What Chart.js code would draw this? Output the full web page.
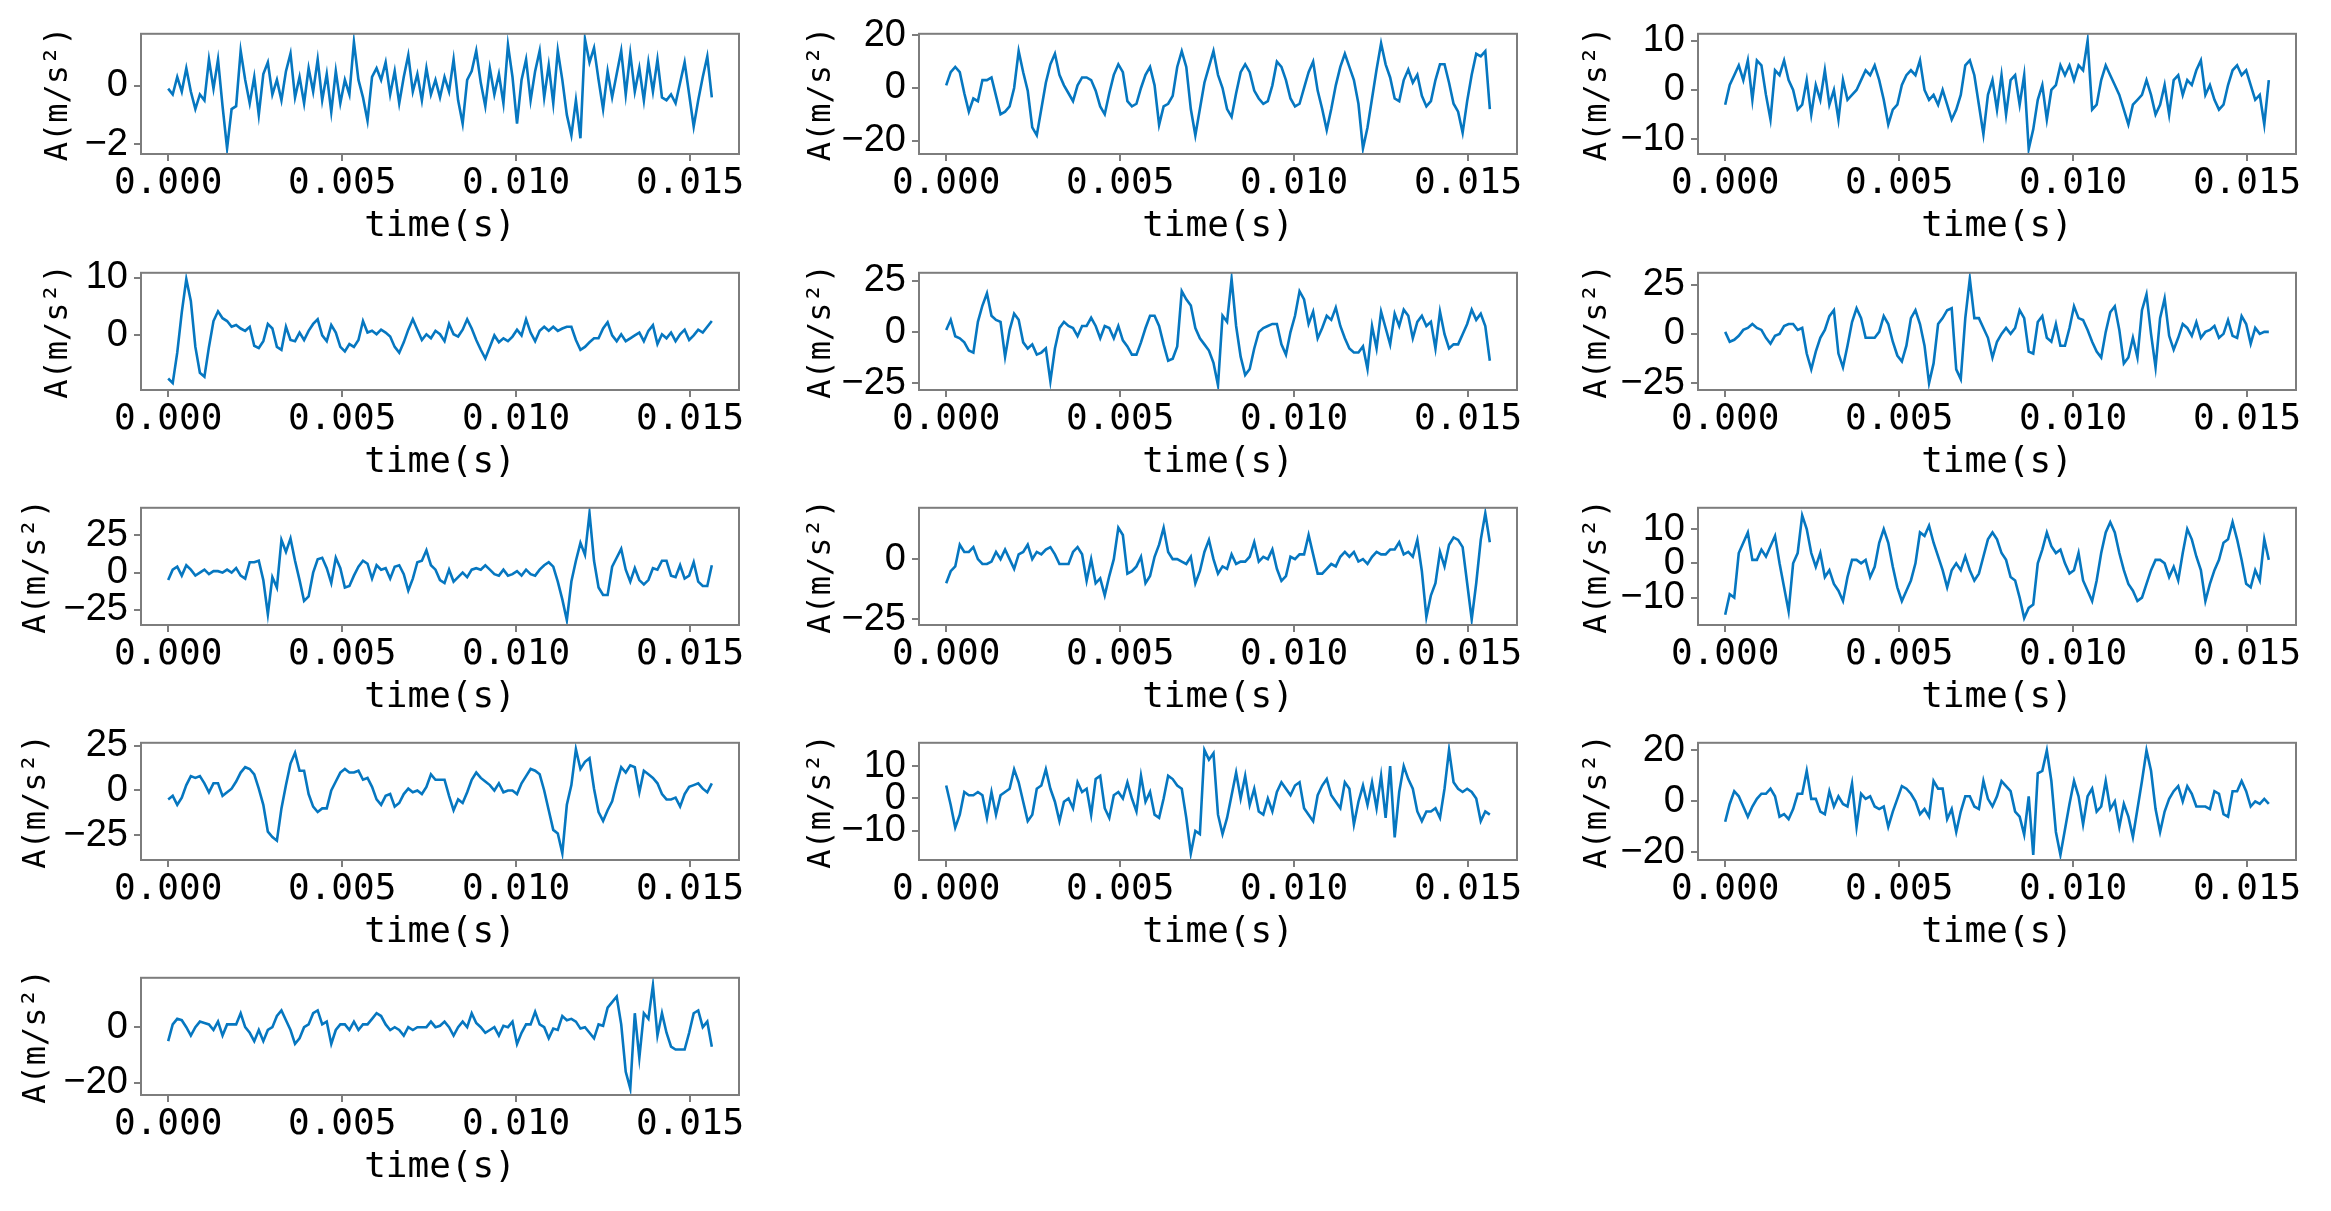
<!DOCTYPE html>
<html><head><meta charset="utf-8">
<script src="https://cdn.jsdelivr.net/npm/chart.js@4"></script>
<style>
html,body{margin:0;padding:0;background:#fff;}
#fig{position:relative;width:2331px;height:1211px;overflow:hidden;background:#fff;}
#fig canvas{position:absolute;}
</style></head><body><div id="fig"></div>
<script>
// ---- data ----
const DURATION = 0.015625;              // record length (s)
const xTicks = [0, 0.005, 0.010, 0.015];
const xLabel = 'time(s)';
const yLabel = 'A(m/s²)';

const s01 = [-0.1,-0.3,0.3,-0.2,0.6,-0.2,-0.8,-0.3,-0.5,0.9, -0.1,0.9,-0.7,-2.15,-0.8,-0.7,1.2,0.2,-0.6,0.3, -1.0,0.4,0.8,-0.3,0.2,-0.5,0.5,1.1,-0.4,0.3, -0.6,0.6,-0.2,0.9,-0.5,0.4,-0.9,0.5,-0.6,0.2, -0.3,1.5,0.2,-0.4,-1.2,0.3,0.6,0.2,0.8,-0.3, 0.5,-0.6,0.3,1.05,-0.2,0.4,-0.5,0.6,-0.3,0.2, -0.4,0.3,-0.2,0.9,-0.5,-1.3,0.2,0.5,1.2,0.1, -0.7,0.6,-0.3,0.4,-0.6,1.4,0.3,-1.3,0.2,0.9, -0.5,0.5,1.2,-0.4,0.7,-0.6,1.2,0.2,-1.0,-1.7, -0.5,-1.8,1.6,0.8,1.3,0.2,-0.8,0.5,-0.4,0.4, 1.2,-0.3,1.1,-0.2,0.6,-0.5,0.8,-0.2,0.9,-0.4, -0.5,-0.3,-0.6,0.1,0.8,-0.3,-1.4,-0.5,0.3,1.0,-0.4];
const s02 = [1,6,8,6,-2,-9,-4,-5,3,3, 4,-3,-10,-9,-7,0,14,6,-1,-15, -18,-8,2,9,13,5,1,-2,-5,1, 4,4,3,-1,-7,-10,-2,5,9,6, -5,-7,-6,0,5,8,1,-14,-7,-6, -3,8,14,8,-8,-18,-8,2,8,14, 5,0,-8,-11,-2,6,9,6,-1,-4, -6,-5,1,10,8,3,-4,-7,-6,0, 6,10,-1,-8,-16,-8,1,8,13,8, 3,-6,-23,-15,-4,7,17,9,4,-4, -5,3,7,2,5,-3,-7,-5,3,9, 9,2,-6,-9,-17,-5,5,13,12,14,-8];
const s03 = [-3,1,3,5,2,6,-2,6,5,-1, -6,4,3,6,2,0,-4,-3,2,-5, 1,-2,4,-3,0,-6,2,-2,-1,0, 2,4,3,5,2,-2,-7,-4,-3,1, 3,4,3,6,0,-2,-1,-3,0,-3, -6,-4,-1,5,6,3,-3,-9,-1,2, -4,3,-5,2,3,-3,3,-12,-8,-2, 1,-6,0,1,5,3,5,2,5,4, 10,-4,-3,2,5,3,1,-1,-4,-7, -3,-2,-1,2,-1,-5,-3,1,-5,2, 3,-1,2,1,4,6,-1,1,-2,-4, -3,1,4,5,3,4,1,-2,-1,-7,2];
const s04 = [-7.5,-8.3,-3,4,9.8,6,-2,-6.5,-7.2,-2, 2.5,4.2,3,2.5,1.5,1.8,1.2,0.8,1.5,-1.8, -2.2,-1,2,1.2,-2,-2.5,1.5,-0.8,-1,0.5, -0.8,0.8,2,2.8,0,-1,1.8,0.5,-2,-2.8, -1.5,-2,-0.8,2.5,0.5,0.8,0.2,1,0.5,-0.2, -2,-3,-1.2,1,2.8,1,-0.8,0.2,-0.5,0.8, 0.2,-1,2,0.2,-0.2,1,2.8,1.2,-0.8,-2.5, -4,-2,0,-1.2,-0.5,-1,-0.2,1,0,2.8, 0.5,-1,0.8,1.5,0.8,1.5,0.8,1.2,1.5,1.5, -0.8,-2.5,-2,-1.2,-0.5,-0.5,1.2,2.3,0,-1, 0.2,-1,-0.5,0,0.5,-1,0.8,1.8,-1.5,0.2, -0.5,0.5,-1,0.2,1,-0.8,0,1,0.5,1.5,2.5];
const s05 = [1,6,-2,-3,-5,-9,-10,5,13,19, 8,6,5,-12,1,9,6,-5,-8,-6, -11,-10,-8,-24,-8,2,5,3,2,-2, 3,3,7,3,-3,3,2,-3,3,-4, -7,-11,-11,-5,2,8,8,3,-6,-14, -13,-7,20,16,13,2,-3,-6,-9,-15, -26,8,5,26,3,-12,-21,-18,-8,0, 2,3,4,4,-6,-11,0,8,20,16, 4,10,-3,2,8,6,12,3,-3,-8, -10,-10,-7,-18,3,-8,10,2,-6,9, 3,11,8,-3,5,8,3,5,-8,10, -1,-8,-6,-6,-1,4,11,6,9,3,-14];
const s06 = [1,-4,-3,-1,2,3,5,3,2,-2, -5,-1,0,4,5,5,2,3,-10,-18, -9,-2,2,9,12,-10,-17,-6,6,13, 8,-2,-2,-2,1,9,5,-4,-11,-14, -6,8,12,5,-6,-25,-15,5,8,12, 13,-18,-23,8,28,8,8,3,-2,-12, -4,0,3,0,3,12,8,-9,-10,6, 9,-2,-4,5,-6,-6,3,14,8,7, 2,-4,-9,-12,1,11,14,2,-15,-12, -2,-12,12,20,0,-17,8,18,-1,-8, -2,5,3,-1,6,-2,1,2,4,-2, 0,7,-1,-2,9,5,-5,3,0,1,1];
const s07 = [-5,2,4,-2,5,2,-2,0,2,-1, 1,1,0,2,0,3,-2,-4,7,7, 8,-5,-28,-3,-10,22,14,23,8,-5, -19,-16,0,9,10,3,-7,10,3,-10, -9,-2,4,8,6,-4,5,2,3,-4, 4,5,-1,-12,-4,7,8,15,5,2, -5,-7,2,-6,-3,0,-3,2,3,2, 5,2,-1,-2,2,-2,-1,1,-2,2, -1,-2,2,5,7,4,-6,-18,-32,-6, 8,20,12,40,8,-10,-15,-15,4,10, 16,2,-6,3,-5,-8,-5,3,2,8, 8,-2,-3,5,-4,-2,7,-6,-9,-9,5];
const s08 = [-10,-5,-3,6,3,3,5,0,-2,-2, -1,3,0,4,0,-4,2,3,6,0, 3,2,4,5,2,-2,-2,-2,3,5, 2,-9,0,-10,-8,-15,-7,0,13,10, -6,-5,-3,1,-10,-7,1,6,13,3, 0,0,-1,-2,1,-10,-5,3,8,0, -6,-3,-4,2,-2,-1,-1,1,7,-1, 1,0,4,-4,-9,-7,1,0,2,2, 10,2,-6,-6,-4,-2,-3,1,3,1, 3,-1,0,-2,1,3,2,2,4,4, 7,2,3,1,8,-5,-24,-15,-10,3, -3,6,9,8,5,-10,-25,-10,8,19,7];
const s09 = [-15,-9,-10,3,6,9,1,1,4,2, 5,8,0,-7,-14,0,3,14,10,3, -1,3,-4,-2,-6,-8,-11,-4,1,1, 0,1,-4,-1,6,10,6,-1,-7,-11, -8,-5,0,9,8,11,6,2,-2,-7, -2,0,-2,2,-2,-5,-3,2,7,9, 7,3,1,-4,-5,-10,-16,-13,-12,0, 4,9,5,3,4,0,-3,-2,3,-5, -8,-11,-5,3,9,12,9,3,-2,-6, -8,-11,-10,-6,-2,1,1,0,-4,-1, -5,3,10,7,2,-2,-11,-6,-2,1, 6,7,12,7,1,-6,-7,-2,-5,7,1];
const s10 = [-5,-3,-8,-4,3,8,7,8,4,-1, 4,4,-3,-1,1,5,10,13,12,9, 1,-8,-23,-26,-28,-10,3,15,21,11, 11,-2,-9,-12,-10,-10,0,5,10,12, 10,10,11,6,7,2,-5,-8,-3,-2, -9,-7,-2,1,-1,0,-2,2,9,6, 6,6,-3,-11,-5,-7,-1,6,10,7, 5,3,0,4,-1,0,0,-2,4,8, 12,11,9,0,-11,-22,-24,-35,-8,3, 23,12,16,18,1,-12,-17,-11,-6,4, 13,10,14,13,-1,11,9,7,4,-2, -5,-5,-4,-9,-2,2,3,4,1,-1,4];
const s11 = [4,-2,-9,-5,2,1,1,2,1,-6, 2,-5,1,2,3,9,5,-1,-7,-5, 3,4,9,3,-1,-7,-1,0,-3,5, 2,3,-5,6,7,-3,-6,1,2,0, 5,0,-4,7,-1,2,-5,-6,0,7, 6,4,3,-6,-17,-10,-11,15,12,14, -5,-11,-6,1,8,0,7,-2,3,-4, -5,0,-4,2,5,3,1,4,5,-3, -5,-7,1,4,6,1,-1,-3,5,3, -8,-1,4,-2,5,-3,7,-6,10,-12, 2,10,6,3,-4,-7,-4,-4,-3,-6, 3,15,5,3,2,3,2,0,-7,-4,-5];
const s12 = [-8,-1,4,2,-2,-6,-2,1,3,3, 5,2,-6,-5,-7,-3,3,3,12,1, 1,-4,-5,4,-2,2,-1,-2,7,-10, 3,1,2,-2,-3,-2,-10,-4,1,6, 5,3,0,-5,-3,-6,8,5,5,-7, -3,-12,-4,2,2,-2,-3,8,1,-2, 2,8,6,4,-4,-6,-13,2,-21,11, 12,20,8,-12,-21,-11,-1,8,2,-9, 2,5,-4,-2,8,-3,0,-10,-1,-6, -14,-3,8,20,12,-3,-12,-4,1,4, 6,0,6,3,-2,-2,-2,-3,4,3, -5,-6,4,4,8,4,-2,0,-1,1,-1];
const s13 = [-5,1,3,2.5,0,-3,0,2,1.5,1, -1,2,-3,1,1,1,5,0,-2,-5, -1,-5,-1,0,4,6,2.5,-1,-6,-4, 0,1,5,6,1,2,-6,-1,1,1, -1,2,-1,1,1,3,5,4,1,-1, 0,-1,-3,0,-1,0,0,0,2,0, 0.5,2,0,-3,0,2,0,5,1.5,0, -2,-1,0,-3,0.5,0,2,-6,-2,1, 1,5.5,1,0,-4,-0.5,-1,4,2.5,3, 2,-0.5,0,-2,-4,1,0.5,7,9,11, 1,-16,-22,5,-11,5,3,15,-3,5, -2,-7,-8,-8,-8,-2,5,6,0,2,-7];

const yt01 = [-2, 0], yt02 = [-20, 0, 20], yt03 = [-10, 0, 10], yt04 = [0, 10];
const yt05 = [-25, 0, 25], yt06 = [-25, 0, 25], yt07 = [-25, 0, 25], yt08 = [-25, 0];
const yt09 = [-10, 0, 10], yt10 = [-25, 0, 25], yt11 = [-10, 0, 10], yt12 = [-20, 0, 20];
const yt13 = [-20, 0];

// ---- layout / style ----
const COL_LEFT = [141, 919, 1698];
const ROW_TOP = [27, 266, 501, 736, 971];
const ROW_H = [127, 124, 124, 124, 124];
const FRAME_W = 598;
const X_MIN = -0.05 * DURATION, X_MAX = 1.05 * DURATION;
const LINE = '#0677c0', FRAME = '#7d7d7d';
const MONO = '"DejaVu Sans Mono", monospace';
const SANS = '"Liberation Sans", Arial, sans-serif';

const panels = [
  {v:s01, yt:yt01, yr:[-2.34,1.78], r:0, c:0, off:82},
  {v:s02, yt:yt02, yr:[-25.1,20.6], r:0, c:1, off:97},
  {v:s03, yt:yt03, yr:[-13.0,11.4], r:0, c:2, off:100},
  {v:s04, yt:yt04, yr:[-9.5,10.9], r:1, c:0, off:82},
  {v:s05, yt:yt05, yr:[-28.3,29.0], r:1, c:1, off:97},
  {v:s06, yt:yt06, yr:[-28.5,31.0], r:1, c:2, off:100},
  {v:s07, yt:yt07, yr:[-35.2,43.6], r:2, c:0, off:104},
  {v:s08, yt:yt08, yr:[-27.3,21.3], r:2, c:1, off:97},
  {v:s09, yt:yt09, yr:[-18.0,16.2], r:2, c:2, off:100},
  {v:s10, yt:yt10, yr:[-38.8,26.6], r:3, c:0, off:104},
  {v:s11, yt:yt11, yr:[-19.0,17.2], r:3, c:1, off:97},
  {v:s12, yt:yt12, yr:[-23.0,23.0], r:3, c:2, off:100},
  {v:s13, yt:yt13, yr:[-24.3,17.7], r:4, c:0, off:104},
];

const framePlugin = {
  id: 'frame',
  afterDraw(chart) {
    const {ctx, chartArea: a} = chart;
    ctx.save();
    ctx.strokeStyle = FRAME; ctx.lineWidth = 2;
    ctx.strokeRect(a.left, a.top, a.right - a.left, a.bottom - a.top);
    ctx.restore();
  }
};

const fmtY = v => (v < 0 ? '\u2212' + Math.abs(v) : String(v));
const fig = document.getElementById('fig');
const W_AXIS = 140, PAD_T = 22, PAD_R = 40, H_AXIS = 102;
const Y_TITLE_LH = 32 * 1.2;

panels.forEach(p => {
  const cv = document.createElement('canvas');
  cv.width = W_AXIS + FRAME_W + PAD_R;
  cv.height = PAD_T + ROW_H[p.r] + H_AXIS;
  cv.style.left = (COL_LEFT[p.c] - W_AXIS) + 'px';
  cv.style.top = (ROW_TOP[p.r] - PAD_T) + 'px';
  fig.appendChild(cv);
  const n = p.v.length;
  const pts = p.v.map((y, i) => ({x: i * DURATION / (n - 1), y}));
  new Chart(cv, {
    type: 'line',
    data: {datasets: [{data: pts, borderColor: LINE, borderWidth: 2.6, pointRadius: 0, tension: 0, fill: false}]},
    options: {
      responsive: false, animation: false, devicePixelRatio: 1,
      layout: {padding: {left: 0, right: PAD_R, top: PAD_T, bottom: 0}},
      plugins: {legend: {display: false}, tooltip: {enabled: false}},
      scales: {
        x: {
          type: 'linear', min: X_MIN, max: X_MAX,
          afterBuildTicks: s => { s.ticks = xTicks.map(v => ({value: v})); },
          afterFit: s => { s.height = H_AXIS; },
          ticks: {autoSkip: false, maxRotation: 0, padding: 1, color: '#000',
                  font: {family: MONO, size: 36}, callback: v => Number(v).toFixed(3)},
          grid: {drawOnChartArea: false, drawTicks: true, tickLength: 7, color: FRAME, lineWidth: 2},
          border: {display: false},
          title: {display: true, text: xLabel, color: '#000', font: {family: MONO, size: 36},
                  padding: {top: 0, bottom: 8}}
        },
        y: {
          type: 'linear', min: p.yr[0], max: p.yr[1],
          afterBuildTicks: s => { s.ticks = p.yt.map(v => ({value: v})); },
          afterFit: s => { s.width = W_AXIS; },
          ticks: {autoSkip: false, padding: 6, color: '#000',
                  font: {family: SANS, size: 38}, callback: v => fmtY(v)},
          grid: {drawOnChartArea: false, drawTicks: true, tickLength: 7, color: FRAME, lineWidth: 2},
          border: {display: false},
          title: {display: true, text: yLabel, color: '#000', font: {family: MONO, size: 32},
                  padding: {top: W_AXIS - p.off - Y_TITLE_LH / 2, bottom: 0}}
        }
      }
    },
    plugins: [framePlugin]
  });
});
</script>
</body></html>
